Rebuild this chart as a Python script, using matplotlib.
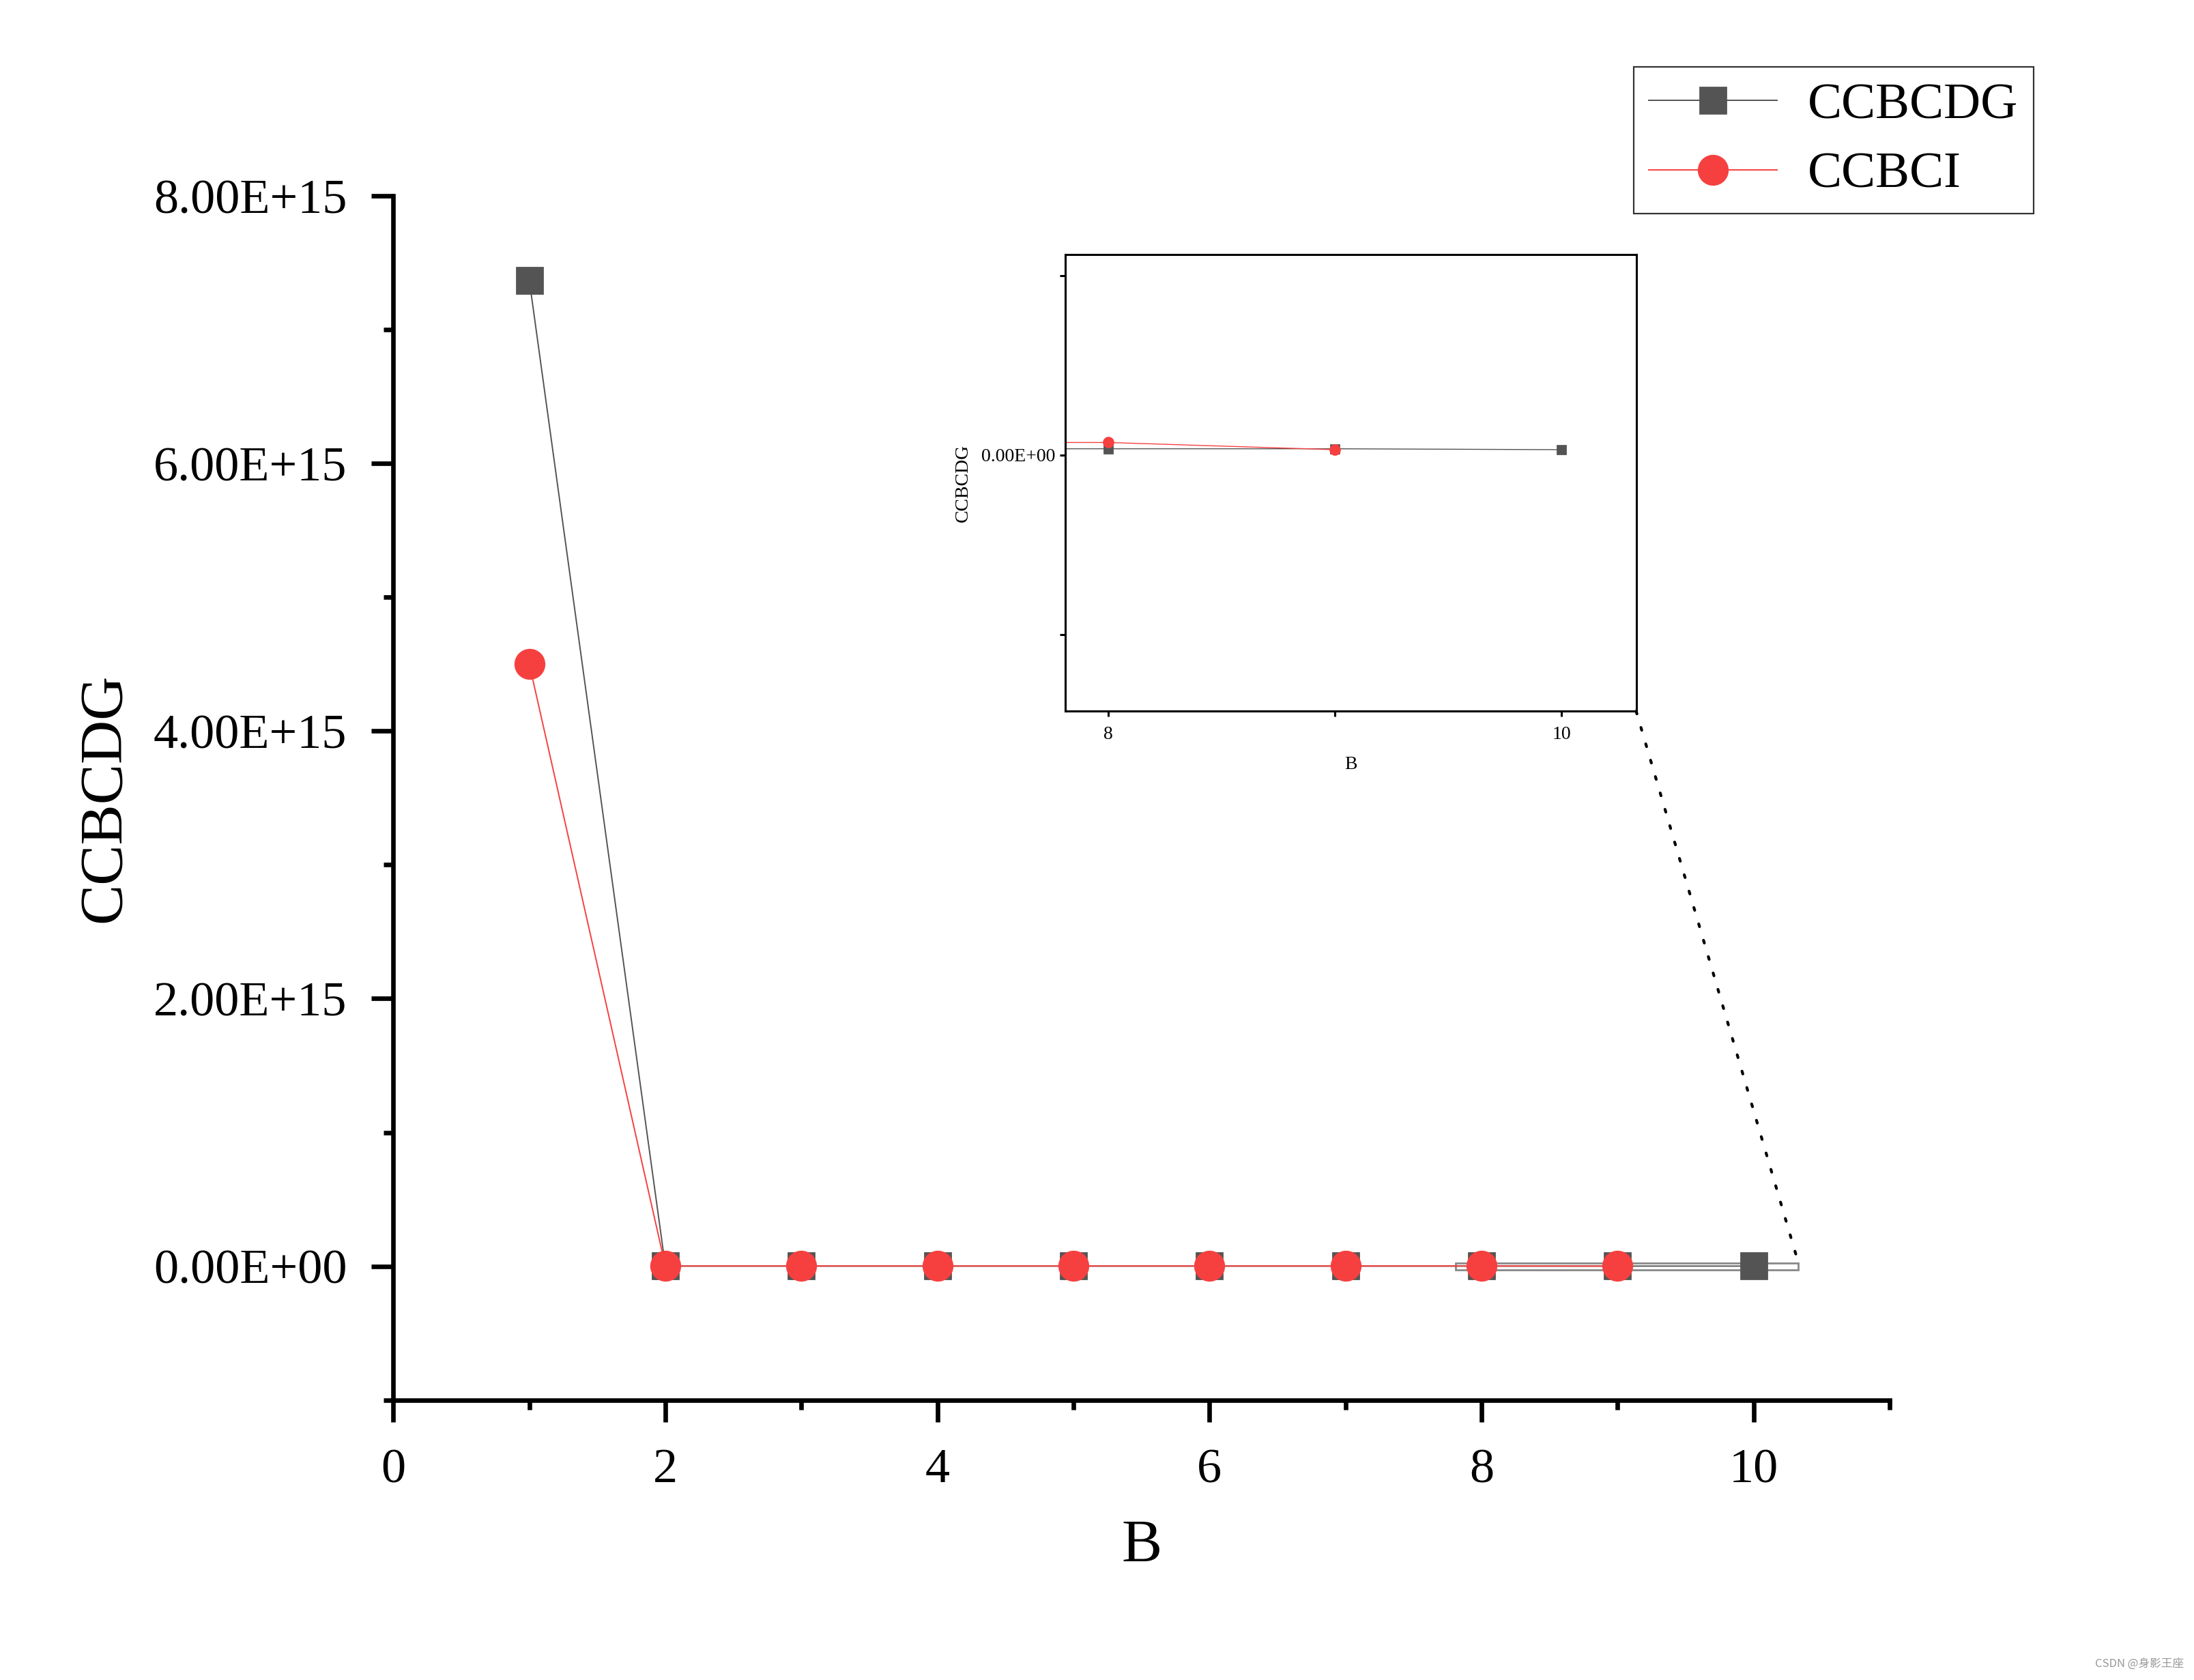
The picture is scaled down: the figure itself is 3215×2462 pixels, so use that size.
import matplotlib
matplotlib.use("Agg")
import matplotlib.pyplot as plt
import matplotlib.ticker as ticker
from matplotlib.patches import Rectangle, ConnectionPatch

# data
b_dg = [1, 2, 3, 4, 5, 6, 7, 8, 9, 10]
ccbcdg = [7.37e15, 7e11, 7e11, 7e11, 7e11, 7e11, 7e11, 7e11, 7e11, 6e11]
b_ci = [1, 2, 3, 4, 5, 6, 7, 8, 9]
ccbci = [4.50e15, 1.4e12, 1.4e12, 1.4e12, 1.4e12, 1.4e12, 1.4e12, 1.4e12, 6e11]

# zoomed region
zoom_x = (7.81, 10.33)
zoom_y = (-2.85e13, 2.23e13)
zoom_yticks = [-2e13, 0, 2e13]

plt.rcParams['font.family'] = ['Liberation Serif', 'DejaVu Serif']

dark = '#545454'
red = '#F64040'

def sci(v, pos):
	return "%.2E" % v

fig = plt.figure(figsize=(16.08, 12.31), dpi=200)
ax = fig.add_axes([0.1792, 0.1667, 0.6818, 0.7166])
ax.plot(b_dg, ccbcdg, color=dark, lw=0.7, marker='s', ms=13.9, mfc=dark, mec=dark, label='CCBCDG')
ax.plot(b_ci, ccbci, color=red, lw=0.7, marker='o', ms=15.3, mfc=red, mec=red, label='CCBCI')
ax.set_xlim(0, 11)
ax.set_ylim(-1e15, 8e15)
ax.xaxis.set_major_locator(ticker.MultipleLocator(2))
ax.xaxis.set_minor_locator(ticker.MultipleLocator(1))
ax.yaxis.set_major_locator(ticker.MultipleLocator(2e15))
ax.yaxis.set_minor_locator(ticker.MultipleLocator(1e15))
ax.yaxis.set_major_formatter(ticker.FuncFormatter(sci))
for s in ['top', 'right']:
	ax.spines[s].set_visible(False)
for s in ['left', 'bottom']:
	ax.spines[s].set_linewidth(2.4)
ax.tick_params(which='major', direction='out', length=11.5, width=2.4, labelsize=26)
ax.tick_params(which='minor', direction='out', length=5, width=2.4)
ax.tick_params(axis='y', which='major', pad=13)
ax.tick_params(axis='x', which='major', pad=14)
ax.set_xlabel('B', fontsize=32, va='center')
ax.set_ylabel('CCBCDG', fontsize=32, va='center')
ax.xaxis.set_label_coords(0.5, -0.122)
ax.yaxis.set_label_coords(-0.193, 0.5)

# zoom box in the main plot
ax.add_patch(Rectangle((zoom_x[0], zoom_y[0]), zoom_x[1] - zoom_x[0], zoom_y[1] - zoom_y[0],
	fill=False, ec='#888888', lw=1.0, zorder=1.5))

leg = ax.legend(loc='upper left', bbox_to_anchor=(0.7443, 0.96), bbox_transform=fig.transFigure,
	fontsize=27, frameon=True, fancybox=False, edgecolor='black', handlelength=2.5,
	handletextpad=0.6, borderpad=0.3, labelspacing=0.44, borderaxespad=0)
leg.get_frame().set_linewidth(0.8)

# inset
axin = fig.add_axes([0.4853, 0.5767, 0.2602, 0.2717])
axin.plot(b_dg, ccbcdg, color=dark, lw=0.5, marker='s', ms=4.4, mfc=dark, mec=dark)
axin.plot(b_ci, ccbci, color=red, lw=0.5, marker='o', ms=5, mfc=red, mec=red)
axin.set_xlim(*zoom_x)
axin.set_ylim(*zoom_y)
axin.set_xticks([8, 9, 10])
axin.set_xticklabels(['8', '', '10'])
axin.set_yticks(zoom_yticks)
axin.set_yticklabels(['', '0.00E+00', ''])
for s in axin.spines.values():
	s.set_linewidth(1.1)
axin.tick_params(direction='out', length=3, width=1.1, labelsize=10, pad=2)
axin.tick_params(axis='x', pad=5)
axin.set_xlabel('B', fontsize=10, va='center')
axin.set_ylabel('CCBCDG', fontsize=10, va='center')
axin.xaxis.set_label_coords(0.5, -0.117)
axin.yaxis.set_label_coords(-0.179, 0.5)

con = ConnectionPatch(xyA=(1, 0), coordsA=axin.transAxes, xyB=(zoom_x[1], zoom_y[1]), coordsB=ax.transData,
	color='black', lw=1.5, linestyle=(0, (1, 5)))
fig.add_artist(con)

fig.text(0.995, 0.006, 'CSDN @身影王座', ha='right', va='bottom', fontsize=6, color='#999999',
	family=['Noto Sans CJK SC', 'DejaVu Sans'])

fig.savefig('out.png', dpi=200)
plt.close()
